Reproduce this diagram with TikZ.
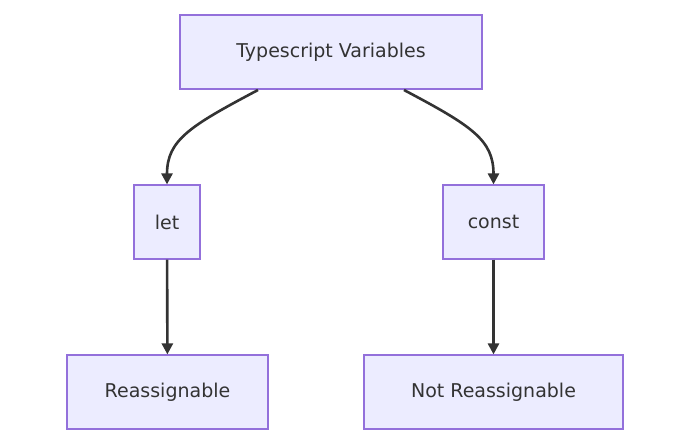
\documentclass[tikz,border=0pt]{standalone}
\usepackage{fontspec}
\setmainfont{DejaVu Sans}
\usetikzlibrary{arrows.meta}
\definecolor{nfill}{HTML}{ECECFF}
\definecolor{nline}{HTML}{9370DB}
\definecolor{ink}{HTML}{333333}
\begin{document}
\begin{tikzpicture}[x=1pt,y=-1pt,
  box/.style={draw=nline,fill=nfill,line width=1.2pt,text=ink,font=\fontsize{19}{22}\selectfont,minimum height=74pt,inner sep=0pt},
  edge/.style={draw=ink,line width=2.6pt,-{Triangle[length=11pt,width=11pt]}}]
\useasboundingbox (0,0) rectangle (690,445);
\node[box,minimum width=302pt] (t) at (331,52) {Typescript Variables};
\node[box,minimum width=66pt] (l) at (167,222) {let};
\node[box,minimum width=101pt] (c) at (493.5,222) {const};
\node[box,minimum width=201pt] (r) at (167.5,392) {Reassignable};
\node[box,minimum width=259pt] (n) at (493.5,392) {Not Reassignable};
\coordinate (t1) at (258,90);
\coordinate (t2) at (404,90);
\draw[edge] (t1) .. controls (190,126) and (167,140) .. (l.north);
\draw[edge] (t2) .. controls (472,126) and (493.5,140) .. (c.north);
\draw[edge] (l) -- (r);
\draw[edge] (c) -- (n);
\end{tikzpicture}
\end{document}
